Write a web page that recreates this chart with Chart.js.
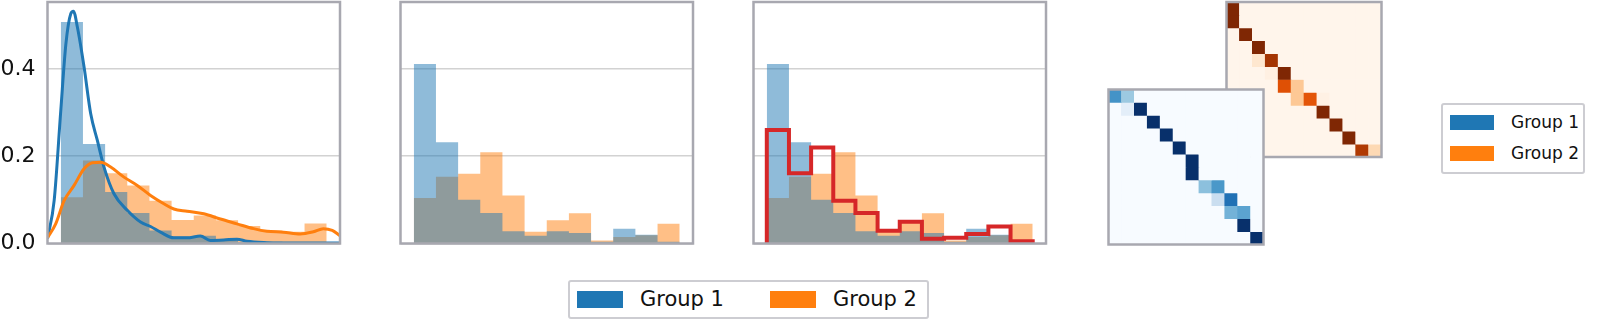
<!DOCTYPE html>
<html>
<head>
<meta charset="utf-8">
<script src="https://cdn.jsdelivr.net/npm/chart.js@4/dist/chart.umd.min.js"></script>
<style>
  body { margin: 0; width: 1603px; height: 325px; position: relative; overflow: hidden; background: #fff;
         font-family: "DejaVu Sans", sans-serif; color: #111; }
  canvas { position: absolute; }
  .legend { position: absolute; box-sizing: border-box; border: 2px solid #cdcdd2; border-radius: 3px; background: #fff; }
  .legend .patch { position: absolute; }
  .legend .label { position: absolute; white-space: nowrap; }
</style>
</head>
<body>
<canvas id="hist1" width="345" height="262" style="left:0;top:0"></canvas>
<canvas id="hist2" width="345" height="262" style="left:353px;top:0"></canvas>
<canvas id="hist3" width="345" height="262" style="left:706px;top:0"></canvas>
<canvas id="matOrange" width="164" height="161" style="left:1222px;top:0"></canvas>
<canvas id="matBlue" width="164" height="164" style="left:1104px;top:85px"></canvas>

<div class="legend" style="left:568px;top:280px;width:361px;height:39px">
  <div class="patch" style="left:7px;top:9px;width:46px;height:17px;background:#1f77b4"></div>
  <div class="label" style="left:70px;top:7px;font-size:21px;line-height:21px">Group 1</div>
  <div class="patch" style="left:200px;top:9px;width:46px;height:17px;background:#ff7f0e"></div>
  <div class="label" style="left:263px;top:7px;font-size:21px;line-height:21px">Group 2</div>
</div>
<div class="legend" style="left:1441px;top:103px;width:144px;height:71px">
  <div class="patch" style="left:7px;top:10px;width:44px;height:15px;background:#1f77b4"></div>
  <div class="label" style="left:68px;top:8px;font-size:17px;line-height:19px">Group 1</div>
  <div class="patch" style="left:7px;top:41px;width:44px;height:15px;background:#ff7f0e"></div>
  <div class="label" style="left:68px;top:39px;font-size:17px;line-height:19px">Group 2</div>
</div>

<script>
// histogram bin heights (12 bins)
const p1Blue   = [0.507, 0.228, 0.118, 0.070, 0.030, 0.016, 0.018, 0.008, 0.003, 0.004, 0.002, 0.002];
const p1Orange = [0.106, 0.190, 0.161, 0.133, 0.098, 0.054, 0.064, 0.053, 0.040, 0.030, 0.027, 0.046];
const p2Blue   = [0.411, 0.232, 0.100, 0.070, 0.028, 0.018, 0.028, 0.024, 0.004, 0.034, 0.020, 0.004];
const p2Orange = [0.104, 0.153, 0.160, 0.209, 0.110, 0.027, 0.053, 0.069, 0.007, 0.015, 0.019, 0.045];
const p3Red    = [0.260, 0.161, 0.220, 0.098, 0.070, 0.029, 0.050, 0.011, 0.013, 0.022, 0.039, 0.005];

// density curves in the first panel (x in bin units)
const kdeBlueX = [-0.6, -0.3, 0, 0.23, 0.45, 0.57, 0.75, 1.05, 1.35, 1.65, 1.95, 2.4, 3.0, 3.6, 4.05, 4.5, 5.1, 5.7, 6.3, 6.75, 7.35, 7.95, 8.4, 9.3, 10.8, 12.6];
const kdeBlueY = [0.011, 0.098, 0.305, 0.457, 0.526, 0.532, 0.495, 0.404, 0.297, 0.236, 0.175, 0.114, 0.076, 0.049, 0.039, 0.026, 0.013, 0.013, 0.017, 0.007, 0.008, 0.010, 0.005, 0.002, 0.001, 0.001];
const kdeOrangeX = [-0.6, -0.23, 0.15, 0.6, 1.05, 1.43, 1.8, 2.25, 2.85, 3.45, 4.05, 4.65, 5.1, 5.7, 6.45, 7.2, 7.95, 8.7, 9.3, 10.05, 10.8, 11.4, 11.85, 12.25, 12.6];
const kdeOrangeY = [0.013, 0.045, 0.098, 0.133, 0.171, 0.185, 0.186, 0.175, 0.152, 0.133, 0.110, 0.091, 0.079, 0.074, 0.068, 0.056, 0.045, 0.034, 0.028, 0.026, 0.022, 0.027, 0.034, 0.030, 0.018];

const yTicks = [0, 0.2, 0.4];

// 12x12 matrices, 0..1 intensity
const blueMatrix = [
  [0.62, 0.38, 0, 0, 0, 0, 0, 0, 0, 0, 0, 0],
  [0, 0.10, 1, 0, 0, 0, 0, 0, 0, 0, 0, 0],
  [0, 0, 0, 1, 0, 0, 0, 0, 0, 0, 0, 0],
  [0, 0, 0, 0, 1, 0, 0, 0, 0, 0, 0, 0],
  [0, 0, 0, 0, 0, 1, 0, 0, 0, 0, 0, 0],
  [0, 0, 0, 0, 0, 0, 1, 0, 0, 0, 0, 0],
  [0, 0, 0, 0, 0, 0, 1, 0, 0, 0, 0, 0],
  [0, 0, 0, 0, 0, 0, 0, 0.42, 0.60, 0, 0, 0],
  [0, 0, 0, 0, 0, 0, 0, 0, 0.23, 0.75, 0, 0],
  [0, 0, 0, 0, 0, 0, 0, 0, 0, 0.48, 0.55, 0],
  [0, 0, 0, 0, 0, 0, 0, 0, 0, 0, 1, 0],
  [0, 0, 0, 0, 0, 0, 0, 0, 0, 0, 0, 1]
];
const orangeMatrix = [
  [1, 0, 0, 0, 0, 0, 0, 0, 0, 0, 0, 0],
  [1, 0, 0, 0, 0, 0, 0, 0, 0, 0, 0, 0],
  [0, 1, 0, 0, 0, 0, 0, 0, 0, 0, 0, 0],
  [0, 0, 1, 0, 0, 0, 0, 0, 0, 0, 0, 0],
  [0, 0, 0.12, 0.88, 0, 0, 0, 0, 0, 0, 0, 0],
  [0, 0, 0, 0.04, 1, 0, 0, 0, 0, 0, 0, 0],
  [0, 0, 0, 0, 0.72, 0.28, 0, 0, 0, 0, 0, 0],
  [0, 0, 0, 0, 0, 0.28, 0.70, 0.03, 0, 0, 0, 0],
  [0, 0, 0, 0, 0, 0, 0, 1, 0, 0, 0, 0],
  [0, 0, 0, 0, 0, 0, 0, 0, 1, 0, 0, 0],
  [0, 0, 0, 0, 0, 0, 0, 0, 0, 1, 0, 0],
  [0, 0, 0, 0, 0, 0, 0, 0, 0, 0, 0.85, 0.20]
];

const BLUES = ['#f7fbff', '#deebf7', '#c6dbef', '#9ecae1', '#6baed6', '#4292c6', '#2171b5', '#08519c', '#08306b'];
const ORANGES = ['#fff5eb', '#fee6ce', '#fdd0a2', '#fdae6b', '#fd8d3c', '#f16913', '#d94801', '#a63603', '#7f2704'];
const FRAME = '#a8a8b0';

function cmap(stops) {
  const rgb = stops.map(h => [1, 3, 5].map(i => parseInt(h.substr(i, 2), 16)));
  return v => {
    const t = Math.max(0, Math.min(1, v)) * (rgb.length - 1);
    const i = Math.min(Math.floor(t), rgb.length - 2), f = t - i;
    const c = rgb[i].map((a, k) => Math.round(a + (rgb[i + 1][k] - a) * f));
    return `rgb(${c[0]},${c[1]},${c[2]})`;
  };
}

const framePlugin = {
  id: 'frame',
  afterDraw(chart) {
    const { ctx, chartArea: a } = chart;
    ctx.save();
    ctx.strokeStyle = FRAME;
    ctx.lineWidth = 2.5;
    ctx.strokeRect(a.left, a.top, a.right - a.left, a.bottom - a.top);
    ctx.restore();
  }
};

function histData(vals) {
  const pts = vals.map((v, i) => ({ x: i, y: v }));
  pts.push({ x: vals.length, y: vals[vals.length - 1] });
  return pts;
}

function histSet(vals, color, order) {
  return {
    data: histData(vals), stepped: true, fill: 'origin',
    backgroundColor: color, borderColor: 'rgba(0,0,0,0)', borderWidth: 1,
    pointRadius: 0, order: order
  };
}

function kdeSet(xs, ys, color, order) {
  return {
    data: xs.map((x, i) => ({ x: x, y: ys[i] })),
    borderColor: color, borderWidth: 3, pointRadius: 0, fill: false,
    cubicInterpolationMode: 'monotone', order: order
  };
}

function histChart(id, datasets, showTicks) {
  new Chart(document.getElementById(id), {
    type: 'line',
    data: { datasets: datasets },
    options: {
      responsive: false, animation: false, events: [],
      layout: { padding: { left: 0, top: 2, right: 5, bottom: 18.5 } },
      plugins: { legend: { display: false }, tooltip: { enabled: false } },
      scales: {
        x: { type: 'linear', min: -0.6, max: 12.6, display: false },
        y: {
          min: 0, max: 0.553,
          afterFit: s => { s.width = 47.5; s.paddingTop = 0; s.paddingBottom = 0; },
          afterBuildTicks: s => { s.ticks = yTicks.map(v => ({ value: v })); },
          border: { display: false },
          grid: { color: '#d2d2d2', lineWidth: 1.5, drawTicks: false },
          ticks: {
            display: showTicks, padding: 12, color: '#111',
            font: { family: 'DejaVu Sans', size: 22 },
            callback: v => v.toFixed(1)
          }
        }
      }
    },
    plugins: [framePlugin]
  });
}

const blueFill = 'rgba(31,119,180,0.5)';
const orangeFill = 'rgba(255,127,14,0.5)';

histChart('hist1', [
  kdeSet(kdeOrangeX, kdeOrangeY, '#ff7f0e', 0),
  kdeSet(kdeBlueX, kdeBlueY, '#1f77b4', 1),
  histSet(p1Blue, blueFill, 2),
  histSet(p1Orange, orangeFill, 3)
], true);

histChart('hist2', [
  histSet(p2Blue, blueFill, 2),
  histSet(p2Orange, orangeFill, 3)
], false);

const redData = [{ x: 0, y: 0 }].concat(p3Red.map((v, i) => ({ x: i, y: v })), [{ x: p3Red.length, y: 0 }]);
histChart('hist3', [
  {
    data: redData, stepped: true, fill: false, borderColor: '#d62728', borderWidth: 4,
    borderJoinStyle: 'miter', borderCapStyle: 'butt', pointRadius: 0, order: 0
  },
  histSet(p2Blue, blueFill, 2),
  histSet(p2Orange, orangeFill, 3)
], false);

function matrixChart(id, matrix, stops, pad) {
  const color = cmap(stops);
  new Chart(document.getElementById(id), {
    type: 'bar',
    data: {
      labels: matrix[0].map((_, c) => String(c)),
      datasets: matrix.map((row, r) => ({
        data: row.map(() => [r, r + 1]),
        backgroundColor: row.map(v => color(v)),
        borderWidth: 0, grouped: false, barPercentage: 1, categoryPercentage: 1
      }))
    },
    options: {
      responsive: false, animation: false, events: [],
      layout: { padding: pad },
      plugins: { legend: { display: false }, tooltip: { enabled: false } },
      scales: {
        x: { display: false },
        y: { display: false, min: 0, max: matrix.length, reverse: true }
      }
    },
    plugins: [framePlugin]
  });
}

matrixChart('matOrange', orangeMatrix, ORANGES, { left: 4.5, right: 4.5, top: 2, bottom: 4 });
matrixChart('matBlue', blueMatrix, BLUES, { left: 4.5, right: 4.5, top: 4.5, bottom: 4.5 });
</script>
</body>
</html>
